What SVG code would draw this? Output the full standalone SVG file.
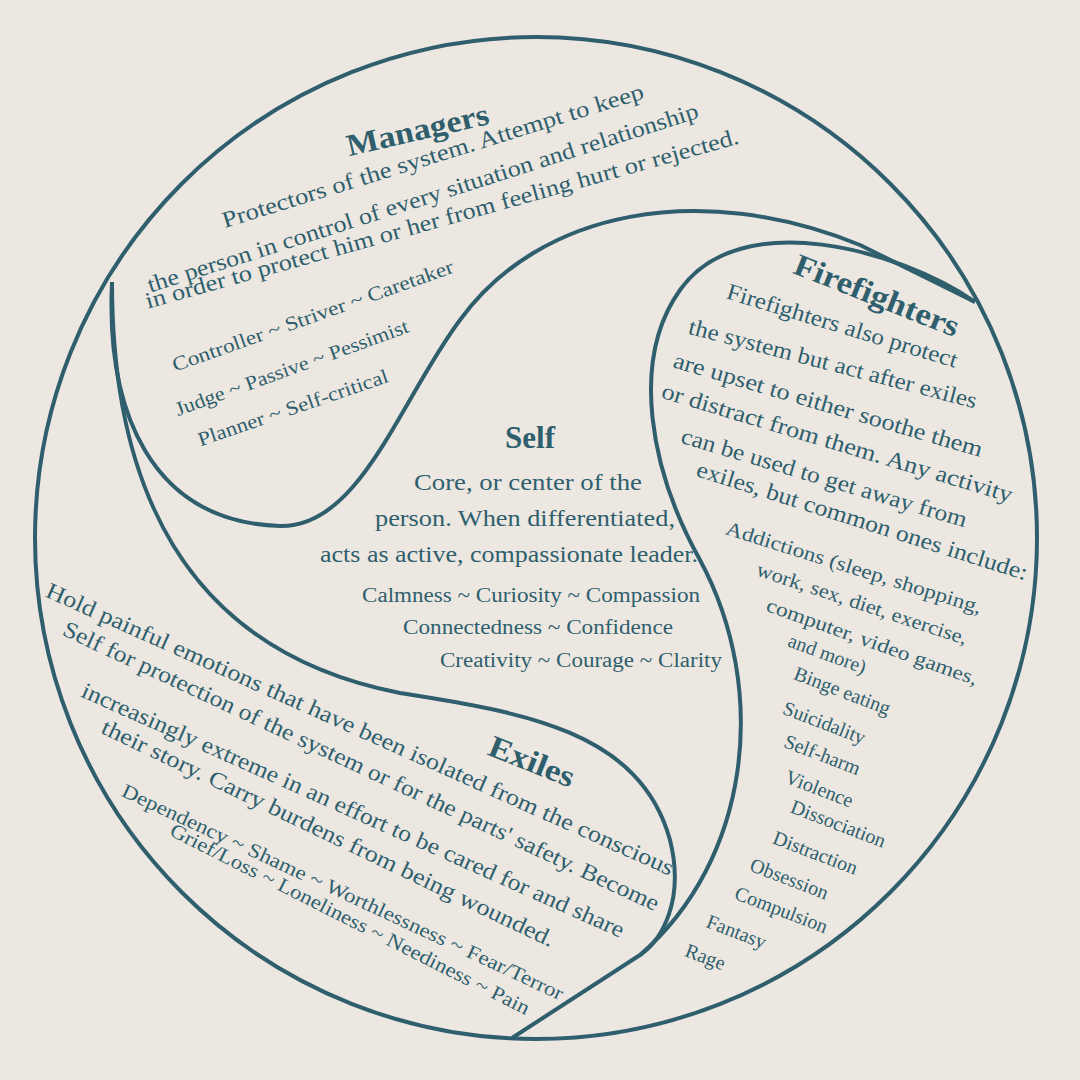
<svg xmlns="http://www.w3.org/2000/svg" width="1080" height="1080" viewBox="0 0 1080 1080">
<style>
text{font-family:"Liberation Serif","DejaVu Serif",serif;fill:#2f5f6d;text-anchor:middle}
.t{font-size:31px;font-weight:bold}
.b{font-size:23px}
.l{font-size:20px}
.ln{fill:none;stroke:#2f5f6d;stroke-width:4;stroke-linejoin:round}
</style>
<rect width="1080" height="1080" fill="#ede7e2"/>
<g id="connectors">
<circle class="ln" cx="536" cy="538" r="501"/>
<path class="ln" d="M112 282 C106 410 150 522 280 526 C360 528 400 400 460 320 C540 210 700 180 860 245 L975 302"/>
<path class="ln" d="M975 302 C900 250 740 205 680 290 C630 360 650 470 700 560 C770 690 750 860 640 955 L512 1038"/>
<path class="ln" d="M112 282 C112 480 180 650 400 693 C520 712 640 730 670 840 C685 900 662 940 640 955"/>
</g>
<g id="managers">
<text class="t" transform="translate(420,140) rotate(-13)" textLength="145" lengthAdjust="spacingAndGlyphs">Managers</text>
<text class="b" transform="translate(435,163) rotate(-17.2)" textLength="440" lengthAdjust="spacingAndGlyphs">Protectors of the system. Attempt to keep</text>
<text class="b" transform="translate(425,205) rotate(-17.7)" textLength="577" lengthAdjust="spacingAndGlyphs">the person in control of every situation and relationship</text>
<text class="b" transform="translate(444,226) rotate(-15.6)" textLength="615" lengthAdjust="spacingAndGlyphs">in order to protect him or her from feeling hurt or rejected.</text>
<text class="l" transform="translate(315,322) rotate(-19.6)" textLength="297" lengthAdjust="spacingAndGlyphs">Controller ~ Striver ~ Caretaker</text>
<text class="l" transform="translate(294,374) rotate(-20)" textLength="247" lengthAdjust="spacingAndGlyphs">Judge ~ Passive ~ Pessimist</text>
<text class="l" transform="translate(295,414) rotate(-18.9)" textLength="200" lengthAdjust="spacingAndGlyphs">Planner ~ Self-critical</text>
</g>
<g id="self">
<text class="t" x="530" y="448">Self</text>
<text class="b" x="528" y="490" textLength="228" lengthAdjust="spacingAndGlyphs">Core, or center of the</text>
<text class="b" x="525" y="526" textLength="300" lengthAdjust="spacingAndGlyphs">person. When differentiated,</text>
<text class="b" x="509" y="562" textLength="378" lengthAdjust="spacingAndGlyphs">acts as active, compassionate leader.</text>
<text class="l" x="531" y="602" textLength="338" lengthAdjust="spacingAndGlyphs">Calmness ~ Curiosity ~ Compassion</text>
<text class="l" x="538" y="634" textLength="270" lengthAdjust="spacingAndGlyphs">Connectedness ~ Confidence</text>
<text class="l" x="581" y="667" textLength="282" lengthAdjust="spacingAndGlyphs">Creativity ~ Courage ~ Clarity</text>
</g>
<g id="firefighters">
<text class="t" transform="translate(873,305) rotate(21.7)" textLength="175" lengthAdjust="spacingAndGlyphs">Firefighters</text>
<text class="b" transform="translate(840,333) rotate(16.9)" textLength="240" lengthAdjust="spacingAndGlyphs">Firefighters also protect</text>
<text class="b" transform="translate(831,371) rotate(14.6)" textLength="297" lengthAdjust="spacingAndGlyphs">the system but act after exiles</text>
<text class="b" transform="translate(826,412) rotate(16.3)" textLength="321" lengthAdjust="spacingAndGlyphs">are upset to either soothe them</text>
<text class="b" transform="translate(835,450) rotate(16.7)" textLength="365" lengthAdjust="spacingAndGlyphs">or distract from them. Any activity</text>
<text class="b" transform="translate(822,485) rotate(16.6)" textLength="297" lengthAdjust="spacingAndGlyphs">can be used to get away from</text>
<text class="b" transform="translate(860,528) rotate(17.6)" textLength="346" lengthAdjust="spacingAndGlyphs">exiles, but common ones include:</text>
<text class="l" transform="translate(852,574) rotate(17.4)" textLength="267" lengthAdjust="spacingAndGlyphs">Addictions (sleep, shopping,</text>
<text class="l" transform="translate(860,610) rotate(18.4)" textLength="221" lengthAdjust="spacingAndGlyphs">work, sex, diet, exercise,</text>
<text class="l" transform="translate(870,648) rotate(19.6)" textLength="223" lengthAdjust="spacingAndGlyphs">computer, video games,</text>
<text class="l" transform="translate(825,660) rotate(20)">and more)</text>
<text class="l" transform="translate(840,697) rotate(21)">Binge eating</text>
<text class="l" transform="translate(822,729) rotate(21)">Suicidality</text>
<text class="l" transform="translate(820,761) rotate(21)">Self-harm</text>
<text class="l" transform="translate(817,795) rotate(21)">Violence</text>
<text class="l" transform="translate(836,830) rotate(21)">Dissociation</text>
<text class="l" transform="translate(813,859) rotate(21)">Distraction</text>
<text class="l" transform="translate(787,885) rotate(21)">Obsession</text>
<text class="l" transform="translate(779,916) rotate(21)">Compulsion</text>
<text class="l" transform="translate(734,938) rotate(21)">Fantasy</text>
<text class="l" transform="translate(703,963) rotate(21)">Rage</text>
</g>
<g id="exiles">
<text class="t" transform="translate(528,771) rotate(22)" textLength="90" lengthAdjust="spacingAndGlyphs">Exiles</text>
<text class="b" transform="translate(357,736) rotate(24.1)" textLength="685" lengthAdjust="spacingAndGlyphs">Hold painful emotions that have been isolated from the conscious</text>
<text class="b" transform="translate(358,773) rotate(25)" textLength="655" lengthAdjust="spacingAndGlyphs">Self for protection of the system or for the parts' safety. Become</text>
<text class="b" transform="translate(350,817) rotate(24.1)" textLength="592" lengthAdjust="spacingAndGlyphs">increasingly extreme in an effort to be cared for and share</text>
<text class="b" transform="translate(325,840) rotate(25.5)" textLength="499" lengthAdjust="spacingAndGlyphs">their story. Carry burdens from being wounded.</text>
<text class="l" transform="translate(340,898) rotate(25)" textLength="485" lengthAdjust="spacingAndGlyphs">Dependency ~ Shame ~ Worthlessness ~ Fear/Terror</text>
<text class="l" transform="translate(347,925) rotate(26.8)" textLength="400" lengthAdjust="spacingAndGlyphs">Grief/Loss ~ Loneliness ~ Neediness ~ Pain</text>
</g>
</svg>
